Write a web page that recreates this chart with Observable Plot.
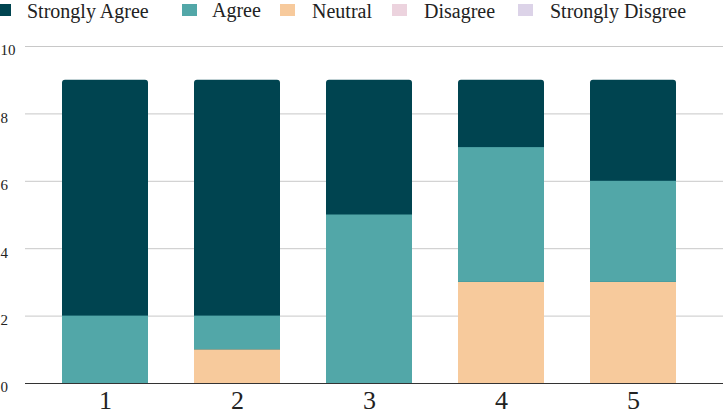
<!DOCTYPE html>
<html>
<head>
<meta charset="utf-8">
<script src="https://cdn.jsdelivr.net/npm/d3@7"></script>
<script src="https://cdn.jsdelivr.net/npm/@observablehq/plot@0.6"></script>
<style>
  html, body { margin: 0; padding: 0; background: #fff; }
  #wrap { position: relative; width: 725px; height: 414px; font-family: "Liberation Serif", "Times New Roman", serif; overflow: hidden; }
  #legend { position: relative; height: 28px; }
  .sw { position: absolute; top: 4px; width: 15px; height: 12px; }
  .lt { position: absolute; top: 0; font-size: 20px; line-height: 22px; color: #222; white-space: nowrap; }
  #chart svg { display: block; }
</style>
</head>
<body>
<div id="wrap">
  <div id="legend"></div>
  <div id="chart"></div>
</div>
<script>
const questions = ["1", "2", "3", "4", "5"];
const categories = ["Strongly Agree", "Agree", "Neutral", "Disagree", "Strongly Disgree"];
const colors = ["#004450", "#52a7a8", "#f7ca9c", "#ecd3de", "#dcd3e8"];
const stronglyAgree = [7, 7, 4, 2, 3];
const agree = [2, 1, 5, 4, 3];
const neutral = [0, 1, 0, 3, 3];
const disagree = [0, 0, 0, 0, 0];
const stronglyDisagree = [0, 0, 0, 0, 0];
const yTicks = [0, 2, 4, 6, 8, 10];

const series = [stronglyAgree, agree, neutral, disagree, stronglyDisagree];
const data = [];
questions.forEach((q, i) => {
  // bottom-up stacking order: Strongly Disgree, Disagree, Neutral, Agree, Strongly Agree
  for (let c = categories.length - 1; c >= 0; c--) {
    data.push({q, cat: categories[c], value: series[c][i]});
  }
});

// legend (layout positions)
const swatchLefts = [-4, 182, 280, 392, 518];
const textLefts = [27, 212, 312, 424, 550];
const textTops = [-1, -2, -1, -1, -1];
const legend = document.getElementById("legend");
categories.forEach((c, i) => {
  const sw = document.createElement("div");
  sw.className = "sw";
  sw.style.left = swatchLefts[i] + "px";
  sw.style.background = colors[i];
  legend.appendChild(sw);
  const t = document.createElement("div");
  t.className = "lt";
  t.style.left = textLefts[i] + "px";
  t.style.top = (textTops[i] + 1) + "px";
  t.textContent = c;
  legend.appendChild(t);
});

const chart = Plot.plot({
  width: 725,
  height: 386,
  marginTop: 18,
  marginBottom: 31,
  marginLeft: 25,
  marginRight: 2,
  style: {fontFamily: "'Liberation Serif', 'Times New Roman', serif", background: "#fff", overflow: "visible"},
  x: {domain: questions, range: [61, 676], paddingInner: 0.35, paddingOuter: 0, axis: null, label: null},
  y: {domain: [0, 10], axis: null, label: null},
  color: {domain: categories, range: colors},
  marks: [
    Plot.ruleY(yTicks.filter(d => d > 0), {stroke: "#c8c8c8", strokeWidth: 1}),
    // full bar (top segment colour) with rounded corners
    Plot.barY(data, Plot.groupX({y: "sum"}, {x: "q", y: "value", fill: colors[0], rx: 3})),
    // lower segments
    Plot.barY(data.filter(d => d.cat !== categories[0] && d.value > 0), {
      x: "q", y: "value", fill: "cat", order: categories.slice().reverse()
    }),
    Plot.ruleY([0], {stroke: "#333", strokeWidth: 1}),
    Plot.axisY({ticks: yTicks, label: null, tickSize: 0, tickPadding: 0, textAnchor: "start", dx: -25, dy: 4, fontSize: 15, fill: "#222", tickFormat: d => String(d)}),
    Plot.axisX({label: null, tickSize: 0, tickPadding: 7, fontSize: 26, fill: "#222"})
  ]
});
document.getElementById("chart").appendChild(chart);
</script>
</body>
</html>
